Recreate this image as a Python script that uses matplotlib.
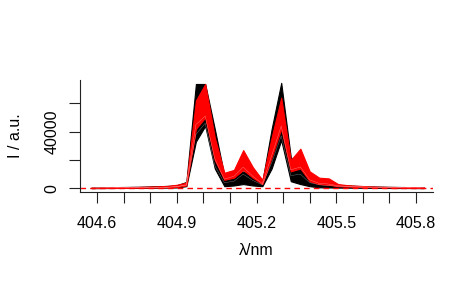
import matplotlib
matplotlib.use('Agg')
import matplotlib.pyplot as plt

plt.rcParams['font.family'] = ['Liberation Sans', 'DejaVu Sans']

# wavelength grid (nm)
lam = [404.579, 404.615, 404.650, 404.686, 404.722, 404.758, 404.793, 404.829,
       404.865, 404.900, 404.936, 404.972, 405.007, 405.043, 405.079, 405.115,
       405.150, 405.186, 405.222, 405.257, 405.293, 405.329, 405.365, 405.400,
       405.436, 405.472, 405.507, 405.543, 405.579, 405.615, 405.650, 405.686,
       405.722, 405.757, 405.793, 405.829]

# envelope of the black group of spectra
black_hi = [600, 700, 800, 900, 1000, 1100, 1300, 1500, 1700, 2200, 4500, 73700,
            73700, 42000, 9000, 8000, 12000, 8000, 5000, 42000, 74500, 22000,
            15000, 9000, 5000, 4000, 2500, 2000, 1700, 1500, 1300, 1100, 1000,
            900, 800, 700]
black_lo = [100, 150, 200, 250, 300, 350, 400, 450, 500, 600, 1500, 33000,
            44000, 14000, 1500, 2000, 3000, 2000, 1500, 14000, 34000, 5000,
            3000, 1500, 700, 600, 500, 450, 400, 350, 300, 250, 200, 200, 150, 100]

# envelope of the red group of spectra
red_hi = [500, 600, 700, 800, 900, 1000, 1200, 1400, 1700, 2500, 4000, 62000,
          73700, 36000, 11000, 13000, 27000, 15000, 6000, 36000, 64000, 20000,
          28000, 12000, 7500, 7000, 3000, 2200, 1800, 1500, 1200, 1000, 900,
          800, 700, 600]
red_lo = [200, 250, 300, 350, 400, 450, 500, 600, 700, 1000, 2000, 42000,
          50000, 20000, 6000, 7500, 13000, 7500, 3000, 22000, 42000, 12000,
          14000, 5000, 3000, 2500, 1500, 1200, 1000, 900, 800, 700, 600, 500,
          400, 300]

# a couple of single spectra that show as light gaps inside the bands
gap_a = [300, 350, 400, 450, 500, 550, 600, 700, 800, 1200, 2500, 45000,
         51000, 21000, 6500, 8500, 15000, 8500, 3300, 23000, 44000, 13000,
         15000, 6000, 3500, 3000, 1800, 1400, 1100, 1000, 900, 800, 700, 600,
         500, 400]
gap_b = [250, 300, 350, 400, 450, 500, 550, 650, 750, 1100, 2200, 38000,
         46000, 16000, 4000, 5000, 10000, 5500, 2500, 18000, 37000, 9000,
         10000, 4000, 2500, 2000, 1400, 1100, 900, 800, 700, 600, 500, 400,
         300, 250]

xticks = [404.6, 404.7, 404.8, 404.9, 405.0, 405.1, 405.2, 405.3, 405.4,
          405.5, 405.6, 405.7, 405.8]
xticklabels = ['404.6', '', '', '404.9', '', '', '405.2', '', '', '405.5',
               '', '', '405.8']
yticks = [0, 20000, 40000, 60000]
yticklabels = ['0', '', '40000', '']

fig = plt.figure(figsize=(4.74, 2.92), dpi=100)
ax = fig.add_axes([80 / 474, 1 - 192 / 292, 353 / 474, 112 / 292])

ax.fill_between(lam, black_lo, black_hi, color='black', lw=0.8)
ax.fill_between(lam, red_lo, red_hi, color='red', lw=0.8)
ax.plot(lam, gap_a, color='white', lw=0.3, alpha=0.5)
ax.plot(lam, gap_b, color='white', lw=0.3, alpha=0.5)
ax.axhline(0, color='red', lw=1, ls=(0, (4, 3)))

ax.set_xlim(404.536, 405.864)
ax.set_ylim(-2600, 76500)

ax.spines['top'].set_visible(False)
ax.spines['right'].set_visible(False)
ax.spines['left'].set_color('#222222')
ax.spines['bottom'].set_color('#222222')

ax.set_xticks(xticks)
ax.set_xticklabels(xticklabels)
ax.set_yticks(yticks)
ax.set_yticklabels(yticklabels, rotation=90, va='center')
ax.tick_params(length=8, width=0.8, labelsize=11.5, color='#222222')
ax.tick_params(axis='x', pad=9)
ax.tick_params(axis='y', pad=7)

ax.set_xlabel('λ/nm', fontsize=11.5, labelpad=9)
ax.set_ylabel('I / a.u.', fontsize=11.5, labelpad=15)

fig.savefig('out.png', dpi=100)
